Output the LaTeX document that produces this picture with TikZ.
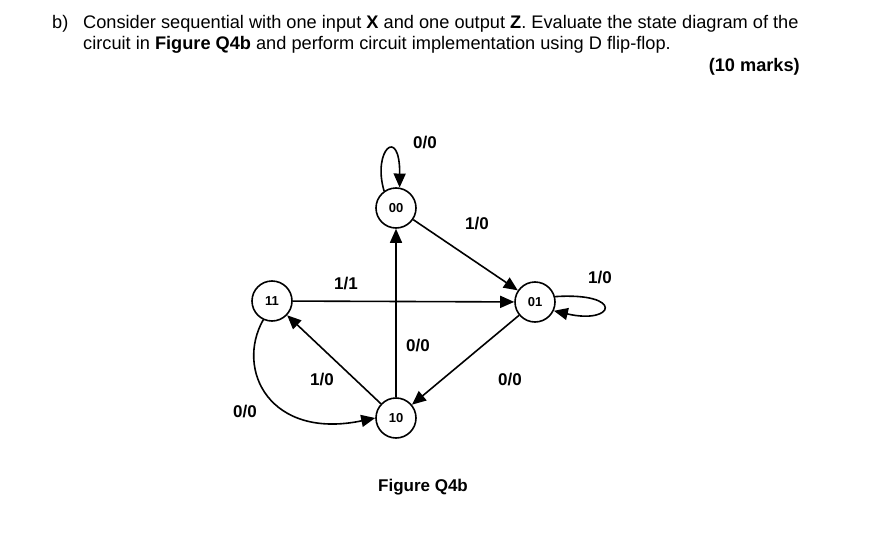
\documentclass[tikz,border=0pt]{standalone}
\usepackage{fontspec}
\setmainfont{Liberation Sans}
\usetikzlibrary{arrows.meta}
\begin{document}
\begin{tikzpicture}[x=1pt,y=-1pt,
  st/.style={circle,draw,line width=1.6pt,minimum size=40pt,inner sep=0pt,font=\fontsize{13}{13}\selectfont\bfseries},
  ed/.style={line width=1.6pt,-{Triangle[length=14pt,width=12pt]}},
  lb/.style={font=\fontsize{17}{17}\selectfont\bfseries},
  tx/.style={anchor=west,font=\fontsize{18.2}{22}\selectfont,inner sep=0pt}]
\useasboundingbox (0,0) rectangle (895,546);
\node[tx] (b) at (52,24) {b)};
\node[tx] (l1) at (83,24) {Consider sequential with one input \textbf{X} and one output \textbf{Z}. Evaluate the state diagram of the};
\node[tx] (l2) at (83,45) {circuit in \textbf{Figure Q4b} and perform circuit implementation using D flip-flop.};
\node[tx,anchor=east] (mk) at (800,67) {\textbf{(10 marks)}};
\node[st] (s00) at (396,208) {00};
\node[st] (s01) at (535,302) {01};
\node[st] (s11) at (272,301) {11};
\node[st] (s10) at (396,418) {10};
\draw[ed] (s00.125) .. controls (372,150) and (400,125) .. (s00.80);
\draw[ed] (s00) -- (s01);
\draw[ed] (s01.15) .. controls (625,292) and (615,325) .. (s01.-25);
\draw[ed] (s11) -- (s01);
\draw[ed] (s10) -- (s00);
\draw[ed] (s10) -- (s11);
\draw[ed] (s01) -- (s10);
\draw[ed] (s11.-115) .. controls (235,370) and (270,440) .. (s10.180);
\node[lb] (a) at (425,143) {0/0};
\node[lb] (b1) at (477,224) {1/0};
\node[lb] (c) at (600,278) {1/0};
\node[lb] (d) at (346,284) {1/1};
\node[lb] (e) at (418,346) {0/0};
\node[lb] (f) at (322,380) {1/0};
\node[lb] (g) at (510,380) {0/0};
\node[lb] (h) at (245,412) {0/0};
\node[lb] (cap) at (423,487) {Figure Q4b};
\end{tikzpicture}
\end{document}
